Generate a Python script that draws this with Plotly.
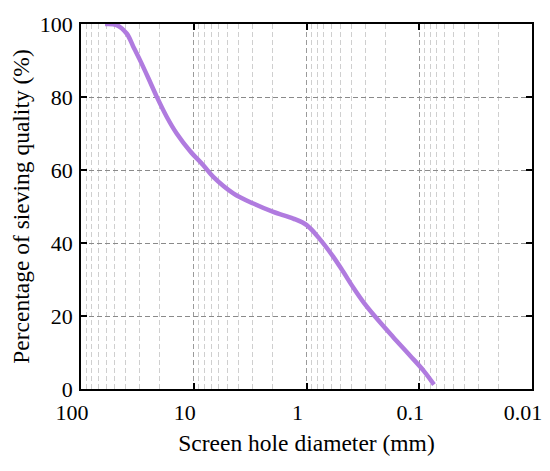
import plotly.graph_objects as go

# Data
diameter_mm = [61.25, 48.25, 39.33, 34.37, 29.98, 25.30, 21.31, 17.38, 14.17, 10.80,
               8.23, 6.71, 4.46, 2.96, 1.97, 1.31, 0.996, 0.759, 0.578, 0.472,
               0.385, 0.313, 0.238, 0.170, 0.121, 0.092, 0.074]
passing_pct = [100, 99.7, 97.4, 93.8, 90.1, 85.2, 80.1, 74.6, 70.0, 65.2,
               61.3, 58.1, 53.6, 50.8, 48.5, 46.7, 44.9, 41.0, 36.2, 32.1,
               27.8, 23.8, 19.3, 14.2, 9.2, 5.1, 1.2]

x_tickvals = [100, 10, 1, 0.1, 0.01]
x_ticktext = ["100", "10", "1", "0.1", "0.01"]
y_tickvals = [0, 20, 40, 60, 80, 100]

font_family = "Liberation Serif"

fig = go.Figure()
fig.add_trace(go.Scatter(
    x=diameter_mm, y=passing_pct, mode="lines",
    line=dict(color="#B07BDF", width=4.5, shape="spline", smoothing=1.0),
    showlegend=False,
))

fig.update_layout(
    width=542, height=463,
    margin=dict(l=73, r=18, t=16, b=82),
    paper_bgcolor="white", plot_bgcolor="white",
    font=dict(family=font_family, size=22, color="black"),
)

fig.update_xaxes(
    type="log", range=[2, -2], automargin=False, ticklabeloverflow="allow",
    tickvals=x_tickvals, ticktext=x_ticktext,
    ticks="inside", ticklen=6, tickwidth=1.5, tickcolor="black",
    showline=True, linecolor="black", linewidth=1.5, mirror="ticks",
    showgrid=True, gridcolor="#9a9a9a", gridwidth=1, griddash="5px,3px",
    minor=dict(dtick="D1", showgrid=True, gridcolor="#cfcfcf", gridwidth=1,
               griddash="5px,3px", ticks=""),
    tickfont=dict(family=font_family, size=22), ticklabelstandoff=3,
    ticklabelshift=9,
    title=dict(text="Screen hole diameter (mm)", font=dict(family=font_family, size=23.5), standoff=10),
    zeroline=False,
)

fig.update_yaxes(
    range=[0, 100], tickvals=y_tickvals, automargin=False, ticklabeloverflow="allow",
    ticks="inside", ticklen=6, tickwidth=1.5, tickcolor="black",
    showline=True, linecolor="black", linewidth=1.5, mirror="ticks",
    showgrid=True, gridcolor="#8a8a8a", gridwidth=1, griddash="5px,3px",
    tickfont=dict(family=font_family, size=22), ticklabelstandoff=2,
    title=dict(text="Percentage of sieving quality (%)", font=dict(family=font_family, size=23.5), standoff=10),
    zeroline=False,
)

fig.write_html("out.html")
